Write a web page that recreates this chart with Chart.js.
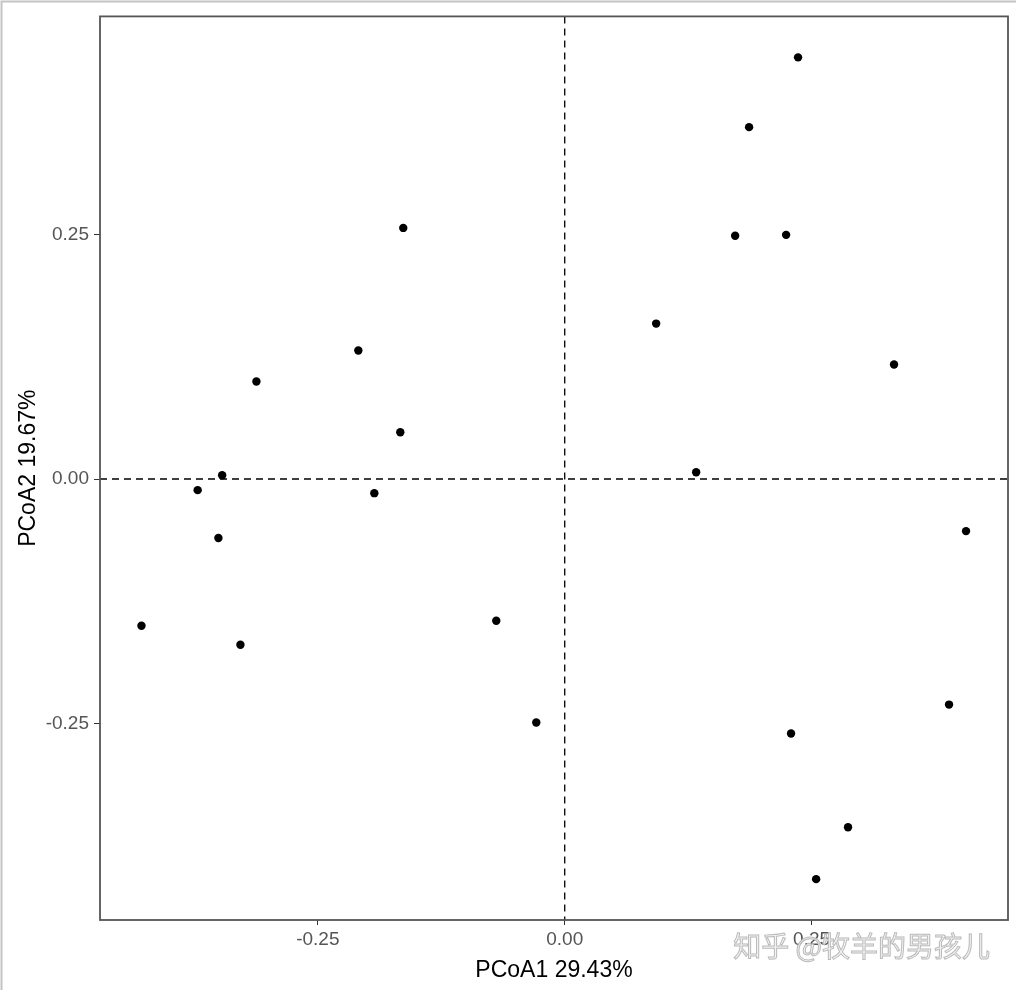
<!DOCTYPE html>
<html>
<head>
<meta charset="utf-8">
<script src="https://cdn.jsdelivr.net/npm/chart.js@4.4.1/dist/chart.umd.min.js"></script>
<style>
  html, body { margin: 0; padding: 0; background: #ffffff; }
  #wrap { width: 1016px; height: 990px; }
</style>
</head>
<body>
<div id="wrap"><canvas id="c" width="1016" height="990"></canvas></div>
<script>
// ---- data ----
const pcoa1 = [0.2363, 0.1867, -0.1635, 0.1726, 0.2242, 0.0926, -0.2090, 0.3335, -0.3122, -0.1665,
               -0.3469, 0.1331, -0.3717, -0.1928, 0.4064, -0.3507, -0.0693, -0.4286, -0.3284, 0.3892,
               -0.0288, 0.2292, 0.2869, 0.2546];
const pcoa2 = [0.4314, 0.3600, 0.2569, 0.2488, 0.2498, 0.1590, 0.1314, 0.1171, 0.0998, 0.0478,
               0.0039, 0.0069, -0.0114, -0.0145, -0.0533, -0.0604, -0.1451, -0.1502, -0.1696, -0.2308,
               -0.2492, -0.2604, -0.3563, -0.4094];
const xTicks = [-0.25, 0, 0.25];
const xTickLabels = ['-0.25', '0.00', '0.25'];
const yTicks = [-0.25, 0, 0.25];
const yTickLabels = ['-0.25', '0.00', '0.25'];
const xTitle = 'PCoA1 29.43%';
const yTitle = 'PCoA2 19.67%';
const watermark = '知乎 @牧羊的男孩儿';

const points = pcoa1.map((x, i) => ({ x: x, y: pcoa2[i] }));

const framePlugin = {
  id: 'frame',
  beforeDraw(chart) {
    const ctx = chart.ctx;
    ctx.save();
    ctx.strokeStyle = '#c4c4c4';
    ctx.lineWidth = 2;
    ctx.beginPath();
    ctx.moveTo(1.5, 990);
    ctx.lineTo(1.5, 1.5);
    ctx.lineTo(1016, 1.5);
    ctx.stroke();
    ctx.restore();
  },
  beforeDatasetsDraw(chart) {
    const ctx = chart.ctx;
    const a = chart.chartArea;
    const xs = chart.scales.x, ys = chart.scales.y;
    const x0 = xs.getPixelForValue(0), y0 = ys.getPixelForValue(0);
    ctx.save();
    ctx.strokeStyle = '#000000';
    ctx.lineWidth = 1.3;
    ctx.setLineDash([7, 5]);
    ctx.beginPath();
    ctx.moveTo(x0, a.top);
    ctx.lineTo(x0, a.bottom);
    ctx.moveTo(a.left, y0);
    ctx.lineTo(a.right, y0);
    ctx.stroke();
    ctx.setLineDash([]);
    ctx.strokeStyle = '#555555';
    ctx.lineWidth = 1.8;
    ctx.strokeRect(a.left, a.top, a.right - a.left, a.bottom - a.top);
    ctx.restore();
  },
  afterDraw(chart) {
    const ctx = chart.ctx;
    ctx.save();
    ctx.font = '28px "Noto Sans CJK SC"';
    ctx.textBaseline = 'middle';
    ctx.textAlign = 'right';
    ctx.fillStyle = 'rgba(242,242,242,0.85)';
    ctx.fillText(watermark, 990, 946);
    ctx.strokeStyle = 'rgba(180,180,180,0.9)';
    ctx.lineWidth = 1;
    ctx.strokeText(watermark, 990, 946);
    ctx.restore();
  }
};

new Chart(document.getElementById('c'), {
  type: 'scatter',
  data: {
    datasets: [{
      data: points,
      backgroundColor: '#000000',
      borderColor: '#000000',
      pointRadius: 4.2,
      pointHoverRadius: 4.2,
      borderWidth: 0
    }]
  },
  options: {
    responsive: false,
    devicePixelRatio: 1,
    animation: false,
    layout: { padding: { left: 0, top: 14, right: 8, bottom: 0 } },
    plugins: { legend: { display: false }, tooltip: { enabled: false } },
    scales: {
      x: {
        type: 'linear',
        min: -0.4706,
        max: 0.4489,
        afterBuildTicks: s => { s.ticks = xTicks.map(v => ({ value: v })); },
        afterFit: s => { s.height = 70; },
        ticks: {
          callback: (v) => xTickLabels[xTicks.indexOf(v)],
          color: '#555555',
          font: { family: '"Liberation Sans", Arial, sans-serif', size: 19 },
          padding: 3,
          maxRotation: 0
        },
        grid: { drawOnChartArea: false, drawTicks: true, tickLength: 5, color: '#333333', lineWidth: 1 },
        border: { display: false },
        title: {
          display: true,
          text: xTitle,
          color: '#000000',
          font: { family: '"Liberation Sans", Arial, sans-serif', size: 23 },
          padding: { top: 0, bottom: 6 }
        }
      },
      y: {
        type: 'linear',
        min: -0.4512,
        max: 0.4733,
        afterBuildTicks: s => { s.ticks = yTicks.map(v => ({ value: v })); },
        afterFit: s => { s.width = 100; },
        ticks: {
          callback: (v) => yTickLabels[yTicks.indexOf(v)],
          color: '#555555',
          font: { family: '"Liberation Sans", Arial, sans-serif', size: 19 },
          padding: 5
        },
        grid: { drawOnChartArea: false, drawTicks: true, tickLength: 6, color: '#333333', lineWidth: 1 },
        border: { display: false },
        title: {
          display: true,
          text: yTitle,
          color: '#000000',
          font: { family: '"Liberation Sans", Arial, sans-serif', size: 23 },
          padding: { top: 15, bottom: 0 }
        }
      }
    }
  },
  plugins: [framePlugin]
});
</script>
</body>
</html>
